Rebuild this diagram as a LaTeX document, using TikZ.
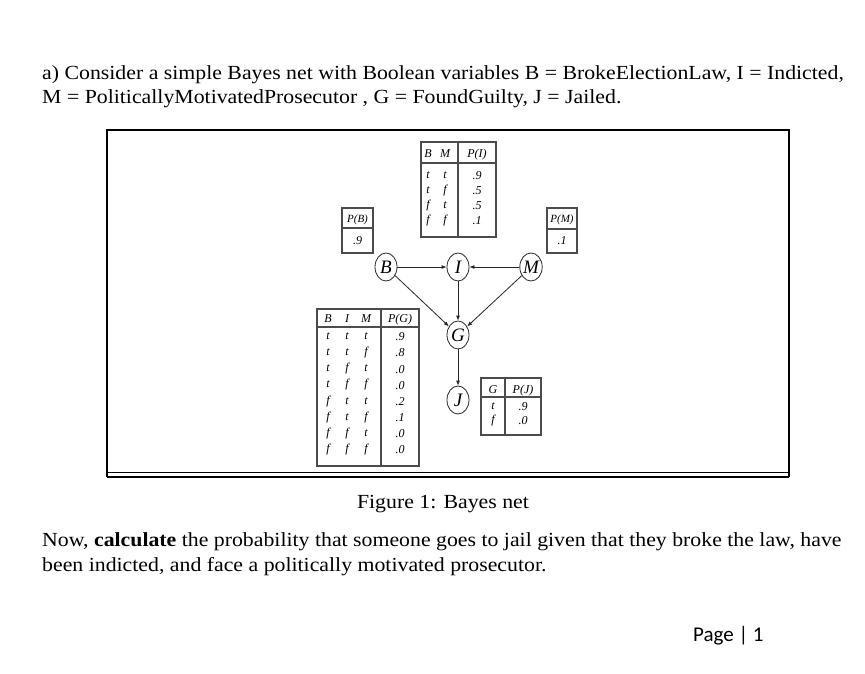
\documentclass[tikz,border=0pt]{standalone}
\usepackage{fontspec}
\setmainfont{Liberation Serif}
\newfontfamily\pagefont{Carlito}
\usetikzlibrary{arrows.meta, shapes.geometric}
\newcommand{\widetext}[1]{\scalebox{1.09}[1]{#1}}

\begin{document}
\begin{tikzpicture}[
    x=1pt, y=-1pt,
    bayesvar/.style={ellipse, draw=black!85, thick, minimum width=22pt, minimum height=28pt, inner sep=0pt, font=\fontsize{19}{19}\selectfont\itshape},
    cptbox/.style={rectangle, draw=black!70, line width=1.2pt, inner sep=0pt},
    cptrule/.style={draw=black!70, line width=1.2pt},
    cpttext/.style={inner sep=0pt, anchor=base, font=\fontsize{12}{15}\selectfont\itshape},
    cptcol/.style={inner sep=0pt, anchor=north, align=center, execute at begin node=\strut},
    bodytext/.style={anchor=base west, inner sep=0pt, font=\fontsize{20}{24}\selectfont},
    link/.style={thick, black!85, -{Latex[length=5pt, width=4pt]}}
]
\useasboundingbox (0,0) rectangle (865,673);
\fill[white] (0,0) rectangle (865,673);

% ==================== QUESTION TEXT ====================
\node[bodytext] (line_a1) at (42, 79) {\widetext{a) Consider a simple Bayes net with Boolean variables B = BrokeElectionLaw, I = Indicted,}};
\node[bodytext] (line_a2) at (42, 103) {\widetext{M = PoliticallyMotivatedProsecutor , G = FoundGuilty, J = Jailed.}};

% ==================== FIGURE FRAME ====================
\draw[line width=2.2pt] (107,477) -- (107,130) -- (789,130) -- (789,477);
\draw[line width=1pt] (107,472.5) -- (789,472.5);
\draw[line width=2pt] (107,477) -- (789,477);

% ==================== NETWORK VARIABLES ====================
\node[bayesvar] (var_b) at (386, 267) {B};
\node[bayesvar] (var_i) at (458, 267) {I};
\node[bayesvar] (var_m) at (531, 267) {M};
\node[bayesvar] (var_g) at (458, 335) {G};
\node[bayesvar] (var_j) at (458, 400) {J};

% ==================== CONDITIONAL PROBABILITY TABLES ====================
% P(B)
\node[cptbox, minimum width=31pt, minimum height=45pt] (cpt_b) at (357.5, 230.5) {};
\draw[cptrule] (342,228) -- (373,228);
\node[cpttext, font=\fontsize{11}{11}\selectfont\itshape] (cpt_b_head) at (357.5, 222) {P(B)};
\node[cpttext] (cpt_b_val) at (357.5, 244) {.9};

% P(I)
\node[cptbox, minimum width=75pt, minimum height=95pt] (cpt_i) at (458.5, 189.5) {};
\draw[cptrule] (421,163) -- (496,163);
\draw[cptrule] (458,142) -- (458,237);
\node[cpttext] (cpt_i_head1) at (428, 157) {B};
\node[cpttext] (cpt_i_head2) at (445, 157) {M};
\node[cpttext] (cpt_i_head3) at (477, 157) {P(I)};
\node[cpttext, cptcol] (cpt_i_colb) at (428, 171.5) {t\\t\\f\\f};
\node[cpttext, cptcol] (cpt_i_colm) at (445, 171.5) {t\\f\\t\\f};
\node[cpttext, cptcol] (cpt_i_vals) at (477, 171.5) {.9\\.5\\.5\\.1};

% P(M)
\node[cptbox, minimum width=30pt, minimum height=45pt] (cpt_m) at (562, 230.5) {};
\draw[cptrule] (547,229) -- (577,229);
\node[cpttext, font=\fontsize{11}{11}\selectfont\itshape] (cpt_m_head) at (562, 222) {P(M)};
\node[cpttext] (cpt_m_val) at (562, 244) {.1};

% P(G)
\node[cptbox, minimum width=102pt, minimum height=157pt] (cpt_g) at (368, 387.5) {};
\draw[cptrule] (317,327) -- (419,327);
\draw[cptrule] (381,309) -- (381,466);
\node[cpttext] (cpt_g_head1) at (328, 322) {B};
\node[cpttext] (cpt_g_head2) at (347, 322) {I};
\node[cpttext] (cpt_g_head3) at (366, 322) {M};
\node[cpttext] (cpt_g_head4) at (400, 322) {P(G)};
\node[cpttext, cptcol, font=\fontsize{12}{16.1}\selectfont\itshape] (cpt_g_colb) at (328, 332.7) {t\\t\\t\\t\\f\\f\\f\\f};
\node[cpttext, cptcol, font=\fontsize{12}{16.1}\selectfont\itshape] (cpt_g_coli) at (347, 332.7) {t\\t\\f\\f\\t\\t\\f\\f};
\node[cpttext, cptcol, font=\fontsize{12}{16.1}\selectfont\itshape] (cpt_g_colm) at (366, 332.7) {t\\f\\t\\f\\t\\f\\t\\f};
\node[cpttext, cptcol, font=\fontsize{12}{16.1}\selectfont\itshape] (cpt_g_vals) at (400, 332.7) {.9\\.8\\.0\\.0\\.2\\.1\\.0\\.0};

% P(J)
\node[cptbox, minimum width=60pt, minimum height=57pt] (cpt_j) at (511, 406.5) {};
\draw[cptrule] (481,397) -- (541,397);
\draw[cptrule] (505,378) -- (505,435);
\node[cpttext] (cpt_j_head1) at (493, 393) {G};
\node[cpttext] (cpt_j_head2) at (523, 393) {P(J)};
\node[cpttext, cptcol, font=\fontsize{12}{14}\selectfont\itshape] (cpt_j_rows) at (493, 402.2) {t\\f};
\node[cpttext, cptcol, font=\fontsize{12}{14}\selectfont\itshape] (cpt_j_vals) at (523, 402.2) {.9\\.0};

% ==================== DEPENDENCY ARROWS ====================
\draw[link] (var_b) -- (var_i);
\draw[link] (var_m) -- (var_i);
\draw[link] (var_b) -- (var_g);
\draw[link] (var_i) -- (var_g);
\draw[link] (var_m) -- (var_g);
\draw[link] (var_g) -- (var_j);

% ==================== CAPTION AND QUESTION ====================
\node[bodytext, anchor=base] (caption) at (443, 508) {\widetext{Figure 1: Bayes net}};
\node[bodytext] (line_b1) at (42, 546) {\widetext{Now, \textbf{calculate} the probability that someone goes to jail given that they broke the law, have}};
\node[bodytext] (line_b2) at (42, 571) {\widetext{been indicted, and face a politically motivated prosecutor.}};
\node[bodytext, font=\fontsize{21}{24}\pagefont] (page_no) at (693, 641) {Page | 1};

\end{tikzpicture}
\end{document}
